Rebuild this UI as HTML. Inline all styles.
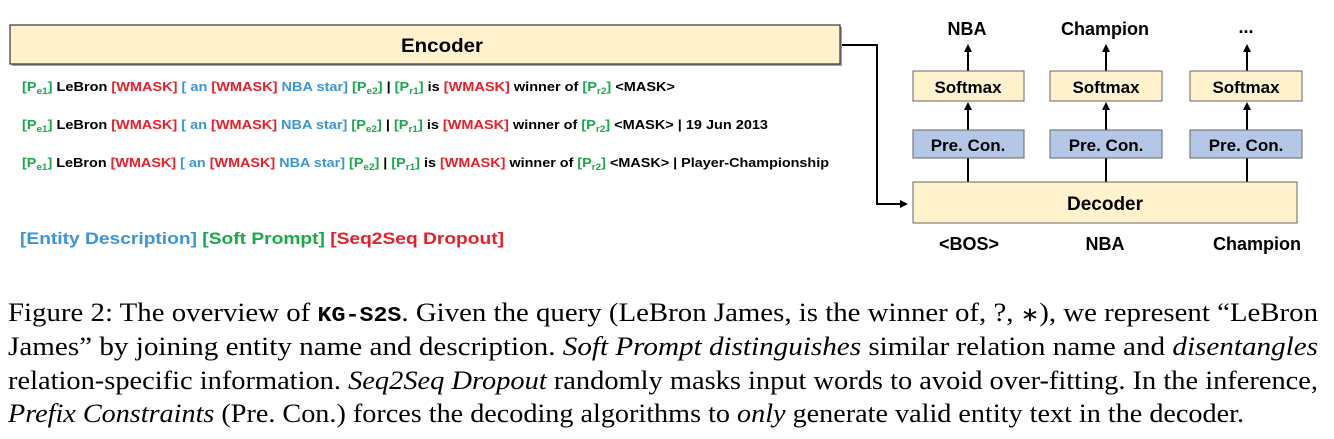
<!DOCTYPE html>
<html><head><meta charset="utf-8"><style>
html,body{margin:0;padding:0;background:#fff;}
svg{display:block;}
.b{font-family:"Liberation Sans",sans-serif;font-weight:bold;}
.s{font-family:"Liberation Serif",serif;}
.g{fill:#1aa84c}.r{fill:#e8202a}.bl{fill:#3a96dc}
</style></head><body>
<svg width="1334" height="439" viewBox="0 0 1334 439" xmlns="http://www.w3.org/2000/svg">
<defs><marker id="a" markerWidth="8" markerHeight="8" refX="6" refY="4" orient="auto" markerUnits="userSpaceOnUse"><path d="M0,0 L8,4 L0,8 Z" fill="#000"/></marker></defs>
<rect x="12" y="27" width="830" height="39" fill="#a0a0a0"/>
<rect x="10" y="25" width="830" height="39" fill="#fff2cc" stroke="#333" stroke-width="1.2"/>
<text x="442" y="52" class="b" font-size="19" text-anchor="middle" textLength="82" lengthAdjust="spacingAndGlyphs">Encoder</text>
<path d="M842,45 H877 V204 H906" fill="none" stroke="#000" stroke-width="2" marker-end="url(#a)"/>
<g class="b" font-size="13">
<text x="22" y="91" textLength="653" lengthAdjust="spacingAndGlyphs"><tspan class="g">[P<tspan font-size="9" dy="3">e1</tspan><tspan dy="-3">]</tspan></tspan> LeBron <tspan class="r">[WMASK]</tspan> <tspan class="bl">[ an </tspan><tspan class="r">[WMASK]</tspan> <tspan class="bl">NBA star]</tspan> <tspan class="g">[P<tspan font-size="9" dy="3">e2</tspan><tspan dy="-3">]</tspan></tspan> | <tspan class="g">[P<tspan font-size="9" dy="3">r1</tspan><tspan dy="-3">]</tspan></tspan>  is <tspan class="r">[WMASK]</tspan> winner of  <tspan class="g">[P<tspan font-size="9" dy="3">r2</tspan><tspan dy="-3">]</tspan></tspan> &lt;MASK&gt;</text>
<text x="22" y="129" textLength="746" lengthAdjust="spacingAndGlyphs"><tspan class="g">[P<tspan font-size="9" dy="3">e1</tspan><tspan dy="-3">]</tspan></tspan> LeBron <tspan class="r">[WMASK]</tspan> <tspan class="bl">[ an </tspan><tspan class="r">[WMASK]</tspan> <tspan class="bl">NBA star]</tspan> <tspan class="g">[P<tspan font-size="9" dy="3">e2</tspan><tspan dy="-3">]</tspan></tspan> | <tspan class="g">[P<tspan font-size="9" dy="3">r1</tspan><tspan dy="-3">]</tspan></tspan>  is <tspan class="r">[WMASK]</tspan> winner of  <tspan class="g">[P<tspan font-size="9" dy="3">r2</tspan><tspan dy="-3">]</tspan></tspan> &lt;MASK&gt; | 19 Jun 2013</text>
<text x="22" y="167" textLength="807" lengthAdjust="spacingAndGlyphs"><tspan class="g">[P<tspan font-size="9" dy="3">e1</tspan><tspan dy="-3">]</tspan></tspan> LeBron <tspan class="r">[WMASK]</tspan> <tspan class="bl">[ an </tspan><tspan class="r">[WMASK]</tspan> <tspan class="bl">NBA star]</tspan> <tspan class="g">[P<tspan font-size="9" dy="3">e2</tspan><tspan dy="-3">]</tspan></tspan> | <tspan class="g">[P<tspan font-size="9" dy="3">r1</tspan><tspan dy="-3">]</tspan></tspan>  is <tspan class="r">[WMASK]</tspan> winner of  <tspan class="g">[P<tspan font-size="9" dy="3">r2</tspan><tspan dy="-3">]</tspan></tspan> &lt;MASK&gt; | Player-Championship</text>
</g>
<text x="20" y="244" class="b" font-size="17" textLength="484" lengthAdjust="spacingAndGlyphs"><tspan class="bl">[Entity Description]</tspan> <tspan class="g">[Soft Prompt]</tspan> <tspan class="r">[Seq2Seq Dropout]</tspan></text>
<g class="b" font-size="18" text-anchor="middle">
<text x="967" y="35">NBA</text><text x="1105" y="35">Champion</text><text x="1246" y="33">...</text>
<text x="969" y="250">&lt;BOS&gt;</text><text x="1105" y="250">NBA</text><text x="1257" y="250">Champion</text>
</g>
<g stroke="#000" stroke-width="2" marker-end="url(#a)">
<line x1="968" y1="71" x2="968" y2="46"/><line x1="1106" y1="71" x2="1106" y2="46"/><line x1="1247" y1="71" x2="1247" y2="46"/>
<line x1="968" y1="130" x2="968" y2="104"/><line x1="1106" y1="130" x2="1106" y2="104"/><line x1="1247" y1="130" x2="1247" y2="104"/>
</g>
<g stroke="#000" stroke-width="2">
<line x1="968" y1="182" x2="968" y2="158"/><line x1="1106" y1="182" x2="1106" y2="158"/><line x1="1247" y1="182" x2="1247" y2="158"/>
</g>
<g fill="#fff2cc" stroke="#666" stroke-width="1">
<rect x="913" y="71" width="111" height="30"/><rect x="1050" y="71" width="112" height="30"/><rect x="1190" y="71" width="112" height="30"/>
</g>
<g fill="#b4c7e7" stroke="#666" stroke-width="1">
<rect x="913" y="130" width="111" height="28"/><rect x="1050" y="130" width="112" height="28"/><rect x="1190" y="130" width="112" height="28"/>
</g>
<g class="b" font-size="17" text-anchor="middle">
<text x="968" y="93">Softmax</text><text x="1106" y="93">Softmax</text><text x="1246" y="93">Softmax</text>
<text x="968" y="151">Pre. Con.</text><text x="1106" y="151">Pre. Con.</text><text x="1246" y="151">Pre. Con.</text>
</g>
<rect x="913" y="182" width="384" height="41" fill="#fff2cc" stroke="#666" stroke-width="1"/>
<text x="1105" y="210" class="b" font-size="19" text-anchor="middle">Decoder</text>
<g class="s" font-size="26">
<text x="8" y="321" textLength="1310" lengthAdjust="spacingAndGlyphs">Figure 2: The overview of <tspan font-family="Liberation Mono" font-weight="bold" font-size="21">KG-S2S</tspan>. Given the query (LeBron James, is the winner of, ?, <tspan font-size="20">∗</tspan>), we represent “LeBron</text>
<text x="8" y="355" textLength="1310" lengthAdjust="spacingAndGlyphs">James” by joining entity name and description. <tspan font-style="italic">Soft Prompt distinguishes</tspan> similar relation name and <tspan font-style="italic">disentangles</tspan></text>
<text x="8" y="389" textLength="1310" lengthAdjust="spacingAndGlyphs">relation-specific information. <tspan font-style="italic">Seq2Seq Dropout</tspan> randomly masks input words to avoid over-fitting. In the inference,</text>
<text x="8" y="422" textLength="1236" lengthAdjust="spacingAndGlyphs"><tspan font-style="italic">Prefix Constraints</tspan> (Pre. Con.) forces the decoding algorithms to <tspan font-style="italic">only</tspan> generate valid entity text in the decoder.</text>
</g>
</svg>
</body></html>
